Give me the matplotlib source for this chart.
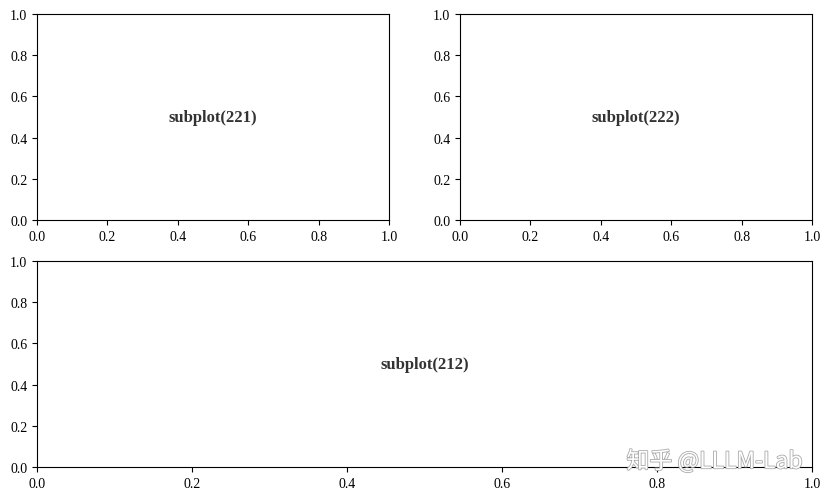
import matplotlib
matplotlib.use("Agg")
import matplotlib.pyplot as plt
import matplotlib.patheffects as pe

plt.rcParams['font.family'] = ['Liberation Serif', 'DejaVu Serif']

# subplot labels and where they go (left, bottom, width, height in figure fraction)
labels = ["subplot(221)", "subplot(222)", "subplot(212)"]
boxes = [
    [37 / 830, 1 - 221 / 502, 352 / 830, 206 / 502],
    [460 / 830, 1 - 221 / 502, 352 / 830, 206 / 502],
    [37 / 830, 1 - 468 / 502, 775 / 830, 206 / 502],
]
ticks = [0.0, 0.2, 0.4, 0.6, 0.8, 1.0]

fig = plt.figure(figsize=(8.3, 5.02), dpi=100)

for label, box in zip(labels, boxes):
    ax = fig.add_axes(box)
    ax.set_xlim(0, 1)
    ax.set_ylim(0, 1)
    ax.set_xticks(ticks)
    ax.set_yticks(ticks)
    ax.tick_params(labelsize=10)
    ax.text(0.5, 0.5, label, ha='center', va='center', fontsize=12,
            fontweight='bold', color='#333333', transform=ax.transAxes)

# watermark
fig.text(0.861, 0.079, "知乎 @LLLM-Lab", ha='center', va='center', fontsize=16.5,
         color='white', family=['Noto Sans CJK SC', 'DejaVu Sans'],
         path_effects=[pe.withStroke(linewidth=1.2, foreground='#aaaaaa')])

plt.savefig("out.png", dpi=100)
